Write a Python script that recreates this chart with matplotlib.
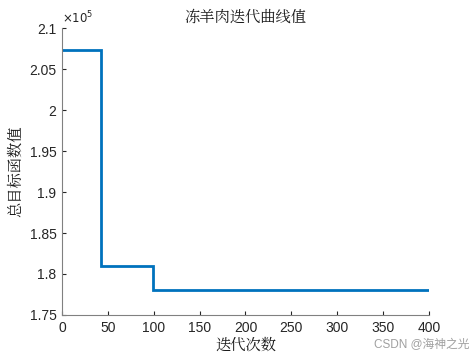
import numpy as np
import matplotlib
matplotlib.use('Agg')
from matplotlib import pyplot as plt
from matplotlib.ticker import FuncFormatter

# 迭代曲线数据（阶梯）
edges = [0, 43, 99, 400]          # 迭代次数的分段点
levels = [2.0735e5, 1.810e5, 1.780e5]  # 每段的目标函数值
xticks = [0, 50, 100, 150, 200, 250, 300, 350, 400]
yticks = [1.75e5, 1.8e5, 1.85e5, 1.9e5, 1.95e5, 2.0e5, 2.05e5, 2.1e5]

plt.rcParams['font.family'] = ['Liberation Sans', 'Noto Sans CJK SC', 'DejaVu Sans']

fig = plt.figure(figsize=(4.74, 3.55), dpi=100)
ax = fig.add_axes([0.1308, 0.1127, 0.905 - 0.1308, 0.921 - 0.1127])

x = np.repeat(edges, 2)[1:-1]
y = np.repeat(levels, 2)
ax.plot(x, y, color='#0072BD', linewidth=2.0, solid_joinstyle='miter')

ax.set_xlim(0, 400)
ax.set_ylim(1.75e5, 2.1e5)
ax.set_xticks(xticks)
ax.set_yticks(yticks)
ax.yaxis.set_major_formatter(FuncFormatter(lambda v, p: '%g' % round(v / 1e5, 3)))

for s in ['top', 'right']:
    ax.spines[s].set_visible(False)
for s in ['left', 'bottom']:
    ax.spines[s].set_color('#808080')
    ax.spines[s].set_linewidth(0.8)
ax.tick_params(direction='in', length=3, width=0.8, color='#262626',
               labelsize=10, labelcolor='#262626', pad=4)

ax.text(0.0, 1.005, r'$\times 10^5$', transform=ax.transAxes, fontsize=8.5,
        color='#262626', ha='left', va='bottom')

cjk = ['Noto Serif CJK SC', 'Noto Sans CJK SC', 'DejaVu Sans']
ax.set_title('冻羊肉迭代曲线值', fontsize=11, family=cjk, color='#1a1a1a', pad=5)
ax.set_xlabel('迭代次数', fontsize=11, family=cjk, color='#1a1a1a', labelpad=2)
ax.set_ylabel('总目标函数值', fontsize=11, family=cjk, color='#1a1a1a', labelpad=4)

fig.text(0.99, 0.012, 'CSDN @海神之光', fontsize=8.5, color='#a0a0a0',
         ha='right', va='bottom', family=['Liberation Sans', 'Noto Sans CJK SC'])

fig.savefig('out.png', dpi=100, facecolor='white')
